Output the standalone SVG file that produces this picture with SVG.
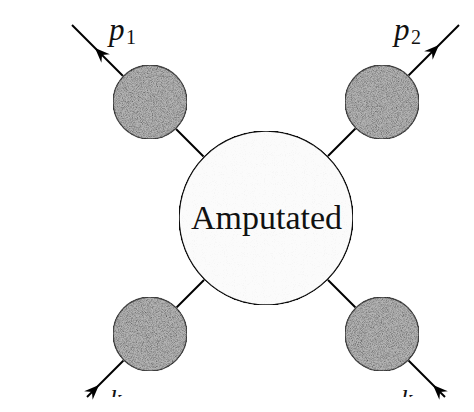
<svg xmlns="http://www.w3.org/2000/svg" width="474" height="412" viewBox="0 0 474 412">
<style>
.line{stroke:#000;stroke-width:2;fill:none}
.blob{fill:#b4b4b4;stroke:#4a4a4a;stroke-width:1.5}
.main{fill:#fbfbfb;stroke:#111;stroke-width:1.6}
.lbl{font-family:"Liberation Serif","DejaVu Serif",serif;font-style:italic;fill:#111}
.sub{font-family:"Liberation Serif","DejaVu Serif",serif;fill:#111}
.big{font-family:"Liberation Serif","DejaVu Serif",serif;font-size:34px;fill:#111}
</style>
<defs>
<path id="ah" d="M0,0 L-15,-6 L-10,0 L-15,6 Z" fill="#000"/>
<filter id="grain" x="0" y="0" width="1" height="1">
<feTurbulence type="fractalNoise" baseFrequency="1.2" numOctaves="2" seed="4" result="t"/>
<feColorMatrix in="t" type="saturate" values="0" result="g"/>
<feComponentTransfer in="g" result="g2">
<feFuncR type="linear" slope="1.8" intercept="-0.1"/>
<feFuncG type="linear" slope="1.8" intercept="-0.1"/>
<feFuncB type="linear" slope="1.8" intercept="-0.1"/>
<feFuncA type="linear" slope="0" intercept="1"/>
</feComponentTransfer>
<feBlend in="SourceGraphic" in2="g2" mode="multiply" result="b"/>
<feComposite in="b" in2="SourceGraphic" operator="in"/>
</filter>
<filter id="grainlight" x="0" y="0" width="1" height="1">
<feTurbulence type="fractalNoise" baseFrequency="1.1" numOctaves="1" seed="7" result="t"/>
<feColorMatrix in="t" type="saturate" values="0" result="g"/>
<feComponentTransfer in="g" result="g2">
<feFuncR type="linear" slope="0.35" intercept="0.84"/>
<feFuncG type="linear" slope="0.35" intercept="0.84"/>
<feFuncB type="linear" slope="0.35" intercept="0.84"/>
<feFuncA type="linear" slope="0" intercept="1"/>
</feComponentTransfer>
<feBlend in="SourceGraphic" in2="g2" mode="multiply" result="b"/>
<feComposite in="b" in2="SourceGraphic" operator="in"/>
</filter>
<clipPath id="cut"><rect x="0" y="0" width="474" height="397"/></clipPath>
</defs>
<rect width="474" height="412" fill="#fff"/>
<g id="connectors">
<line class="line" x1="72" y1="25" x2="205" y2="158"/>
<line class="line" x1="459" y1="25" x2="327" y2="157"/>
<line class="line" x1="87" y1="397" x2="205" y2="279"/>
<line class="line" x1="445" y1="397" x2="327" y2="279"/>
<use href="#ah" transform="translate(95,48) rotate(225)"/>
<use href="#ah" transform="translate(439,45) rotate(-45)"/>
<use href="#ah" transform="translate(99,385) rotate(-45)"/>
<use href="#ah" transform="translate(433,385) rotate(225)"/>
</g>
<g id="blob-p1"><circle class="blob" cx="150" cy="102" r="37" filter="url(#grain)"/></g>
<g id="blob-p2"><circle class="blob" cx="382" cy="102" r="37" filter="url(#grain)"/></g>
<g id="blob-k1"><circle class="blob" cx="150" cy="334" r="37" filter="url(#grain)"/></g>
<g id="blob-k2"><circle class="blob" cx="382" cy="334" r="37" filter="url(#grain)"/></g>
<g id="amputated">
<circle class="main" cx="266" cy="218" r="87" filter="url(#grainlight)"/>
<text class="big" x="266.5" y="229" text-anchor="middle">Amputated</text>
</g>
<g id="label-p1"><text class="lbl" x="109" y="40" font-size="31">p</text><text class="sub" x="126" y="44" font-size="20">1</text></g>
<g id="label-p2"><text class="lbl" x="394" y="40" font-size="31">p</text><text class="sub" x="411" y="44" font-size="20">2</text></g>
<g clip-path="url(#cut)">
<g id="label-k1"><text class="lbl" x="110" y="407" font-size="26">k</text></g>
<g id="label-k2"><text class="lbl" x="401" y="407" font-size="26">k</text></g>
</g>
</svg>
